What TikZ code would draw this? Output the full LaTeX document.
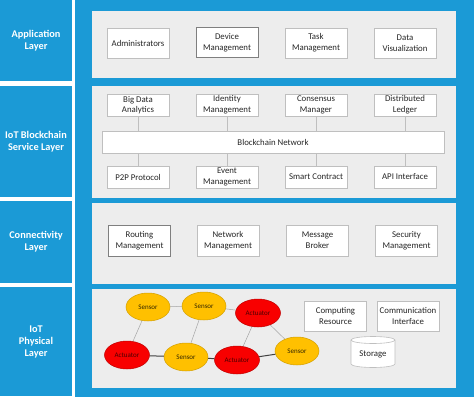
\documentclass[tikz,border=0pt]{standalone}
\usepackage{fontspec}
\setmainfont{Carlito}
\definecolor{lblue}{HTML}{1B9AD6}
\definecolor{panel}{HTML}{EDEDED}
\definecolor{bord}{HTML}{BFBFBF}
\definecolor{dbord}{HTML}{7F7F7F}
\definecolor{sens}{HTML}{FFC000}
\definecolor{sensb}{HTML}{D4A000}
\definecolor{act}{HTML}{F80000}
\definecolor{actb}{HTML}{C00000}
\definecolor{txt}{HTML}{262626}
\usetikzlibrary{shapes.geometric}
\begin{document}
\begin{tikzpicture}[x=1pt,y=-1pt,
  layerlbl/.style={fill=lblue, text=white, font=\bfseries\fontsize{10.3}{12}\selectfont, align=center, inner sep=0pt, minimum width=72pt},
  pnl/.style={fill=panel},
  box/.style={draw=bord, fill=white, line width=0.6pt, minimum width=62pt, inner sep=1pt, align=center, text=txt, font=\fontsize{8.8}{10.6}\selectfont},
  dbox/.style={box, draw=dbord, line width=1pt},
  link/.style={draw=bord, line width=0.6pt},
  sensor/.style={ellipse, draw=sensb, fill=sens, line width=0.5pt, minimum width=44pt, minimum height=28pt, inner sep=0pt, text=black!80!sens, font=\fontsize{7}{8}\selectfont},
  actuator/.style={ellipse, draw=actb, fill=act, line width=0.5pt, minimum width=45pt, minimum height=28pt, inner sep=0pt, text=black!70!act, font=\fontsize{7}{8}\selectfont},
  lite/.style={draw=black!35, line width=0.5pt},
  dark/.style={draw=black!75, line width=1pt}
]
\useasboundingbox (0,0) rectangle (474,412);
\fill[white] (0,0) rectangle (474,412);
% left labels
\node[layerlbl, minimum height=81pt] (lapp) at (36,40.5) {Application\\Layer};
\node[layerlbl, minimum height=111pt] (lsrv) at (36,141.5) {IoT Blockchain\\Service Layer};
\node[layerlbl, minimum height=82pt] (lcon) at (36,242) {Connectivity\\Layer};
\node[layerlbl, minimum height=109pt] (lphy) at (36,341.5) {IoT\\Physical\\Layer};
% right blue area and panels
\fill[lblue] (75,0) rectangle (474,397);
\fill[pnl] (92,11) rectangle (456,78);
\fill[pnl] (92,86) rectangle (456,198);
\fill[pnl] (92,203) rectangle (456,284);
\fill[pnl] (92,289) rectangle (456,388);
% application layer
\node[box, minimum height=30pt] (adm) at (138,43) {Administrators};
\node[dbox, minimum height=30pt] (dev) at (227,43) {Device\\Management};
\node[box, minimum height=30pt] (task) at (316,43) {Task\\Management};
\node[box, minimum height=30pt] (vis) at (405,43) {Data\\Visualization};
% service layer
\node[box, minimum width=342pt, minimum height=22pt] (bcn) at (273,142) {Blockchain Network};
\node[box, minimum height=22pt] (bda) at (138,105) {Big Data\\Analytics};
\node[box, minimum height=22pt] (idm) at (227,105) {Identity\\Management};
\node[box, minimum height=22pt] (csm) at (316,105) {Consensus\\Manager};
\node[box, minimum height=22pt] (dl) at (405,105) {Distributed\\Ledger};
\node[box, minimum height=22pt] (p2p) at (138,177) {P2P Protocol};
\node[box, minimum height=22pt] (evm) at (227,177) {Event\\Management};
\node[box, minimum height=22pt] (sc) at (316,177) {Smart Contract};
\node[box, minimum height=22pt] (api) at (405,177) {API Interface};
\foreach \n in {bda,idm,csm,dl}{\draw[link] (\n.south) -- (\n.south |- bcn.north);}
\foreach \n in {p2p,evm,sc,api}{\draw[link] (\n.north) -- (\n.north |- bcn.south);}
% connectivity layer
\node[dbox, minimum height=31pt] (rtm) at (139.5,240.5) {Routing\\Management};
\node[box, minimum height=31pt] (nwm) at (228,240.5) {Network\\Management};
\node[box, minimum height=31pt] (mb) at (317.5,240.5) {Message\\Broker};
\node[box, minimum height=31pt] (sec) at (406.5,240.5) {Security\\Management};
% physical layer
\node[sensor] (s1) at (148,307) {Sensor};
\node[sensor] (s2) at (204,306) {Sensor};
\node[actuator] (a1) at (258,313) {Actuator};
\node[actuator] (a2) at (127,355) {Actuator};
\node[sensor] (s3) at (186,357) {Sensor};
\node[actuator] (a3) at (237,360) {Actuator};
\node[sensor] (s4) at (297,351) {Sensor};
\path[lite] (s1) -- (s2);
\path[lite] (s2) -- (a1);
\path[lite] (s1) -- (a2);
\path[lite] (s2) -- (s3);
\path[lite] (a1) -- (a3);
\path[lite] (a1) -- (s4);
\path[dark] (a2) -- (s3);
\path[dark] (s3) -- (a3);
\path[dark] (a3) -- (s4);
\node[box, minimum height=30pt] (cmp) at (335.5,316) {Computing\\Resource};
\node[box, minimum height=30pt] (cif) at (408,316) {Communication\\Interface};
\draw[draw=bord, fill=white, line width=0.6pt] (351,340) -- (351,364) arc[start angle=180, end angle=0, x radius=22, y radius=3.5] -- (395,340) arc[start angle=0, end angle=-180, x radius=22, y radius=3.5] -- cycle;
\draw[draw=bord, line width=0.6pt] (351,340) arc[start angle=180, end angle=0, x radius=22, y radius=3.5];
\node[text=txt, font=\fontsize{8.8}{10.6}\selectfont, inner sep=0pt] (sto) at (373,354) {Storage};
\end{tikzpicture}
\end{document}
